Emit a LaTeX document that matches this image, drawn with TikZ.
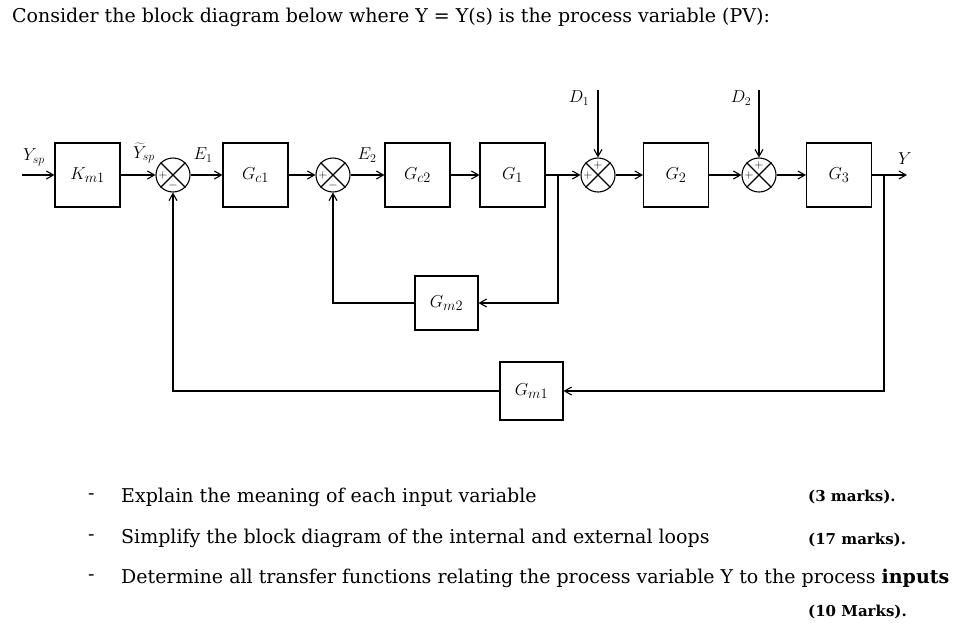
\documentclass[tikz,border=0pt]{standalone}
\usepackage{fontspec}
\setmainfont{DejaVu Serif}
\usetikzlibrary{arrows.meta}
\begin{document}
\begin{tikzpicture}[x=1pt,y=-1pt,
  blk/.style={draw,line width=1.1pt,minimum width=65pt,minimum height=64pt,inner sep=0pt,font=\fontsize{19}{19}\selectfont},
  sm/.style={draw,circle,line width=1.1pt,minimum size=34pt,inner sep=0pt},
  ar/.style={line width=1.1pt,-{Straight Barb[length=7pt,width=8pt]}},
  ln/.style={line width=1.1pt},
  sg/.style={font=\fontsize{13}{13}\selectfont,inner sep=0pt},
  lab/.style={font=\fontsize{18}{18}\selectfont,inner sep=0pt},
  txt/.style={font=\fontsize{19}{19}\selectfont,anchor=west,inner sep=0pt},
  mk/.style={font=\fontsize{15}{15}\selectfont\bfseries,anchor=west,inner sep=0pt}]
\useasboundingbox (0,0) rectangle (956,638);
\node[txt] (t) at (12,17) {Consider the block diagram below where Y = Y(s) is the process variable (PV):};
\node[blk] (km) at (87.5,175) {$K_{m1}$};
\node[sm] (s1) at (173,175) {};
\node[blk] (gc1) at (255.5,175) {$G_{c1}$};
\node[sm] (s2) at (333,175) {};
\node[blk] (gc2) at (417.5,175) {$G_{c2}$};
\node[blk] (g1) at (512.5,175) {$G_1$};
\node[sm] (s3) at (598,175) {};
\node[blk] (g2) at (676,175) {$G_2$};
\node[sm] (s4) at (759,175) {};
\node[blk] (g3) at (839,175) {$G_3$};
\node[blk,minimum width=63pt,minimum height=54pt] (gm2) at (446.5,303) {$G_{m2}$};
\node[blk,minimum width=63pt,minimum height=58pt] (gm1) at (531.5,391) {$G_{m1}$};
\foreach \s in {s1,s2,s3,s4}{
  \draw[ln] (\s.north west) -- (\s.south east) (\s.north east) -- (\s.south west);}
\foreach \s in {s1,s2}{
  \node[sg] at ([xshift=-10pt]\s.center) {$+$};
  \node[sg] at ([yshift=-10pt]\s.center) {$-$};}
\foreach \s in {s3,s4}{
  \node[sg] at ([xshift=-10pt]\s.center) {$+$};
  \node[sg] at ([yshift=10pt]\s.center) {$+$};}
\coordinate (in) at (22,175);
\coordinate (b1) at (558,175);
\coordinate (b3) at (884,175);
\coordinate (out) at (907,175);
\coordinate (d1) at (598,90);
\coordinate (d2) at (759,90);
\draw[ar] (in) -- (km);
\draw[ar] (km) -- (s1);
\draw[ar] (s1) -- (gc1);
\draw[ar] (gc1) -- (s2);
\draw[ar] (s2) -- (gc2);
\draw[ar] (gc2) -- (g1);
\draw[ar] (g1) -- (s3);
\draw[ar] (s3) -- (g2);
\draw[ar] (g2) -- (s4);
\draw[ar] (s4) -- (g3);
\draw[ar] (g3) -- (out);
\draw[ar] (d1) -- (s3);
\draw[ar] (d2) -- (s4);
\draw[ar] (b1) |- (gm2);
\draw[ar] (gm2) -| (s2);
\draw[ar] (b3) |- (gm1);
\draw[ar] (gm1) -| (s1);
\node[lab] (lysp) at (34,157) {$Y_{sp}$};
\node[lab] (lyt) at (144,153) {$\widetilde{Y}_{sp}$};
\node[lab] (le1) at (203,155) {$E_1$};
\node[lab] (le2) at (367,155) {$E_2$};
\node[lab] (ld1) at (579,98) {$D_1$};
\node[lab] (ld2) at (741,98) {$D_2$};
\node[lab] (ly) at (905,159) {$Y$};
\node[txt] (m1) at (88,497) {-};
\node[txt] (m2) at (88,538) {-};
\node[txt] (m3) at (88,578) {-};
\node[txt] (l1) at (121,497) {Explain the meaning of each input variable};
\node[txt] (l2) at (121,538) {Simplify the block diagram of the internal and external loops};
\node[txt] (l3) at (121,578) {Determine all transfer functions relating the process variable Y to the process \textbf{inputs}};
\node[mk] (k1) at (808,497) {(3 marks).};
\node[mk] (k2) at (808,540) {(17 marks).};
\node[mk] (k3) at (808,612) {(10 Marks).};
\end{tikzpicture}
\end{document}
